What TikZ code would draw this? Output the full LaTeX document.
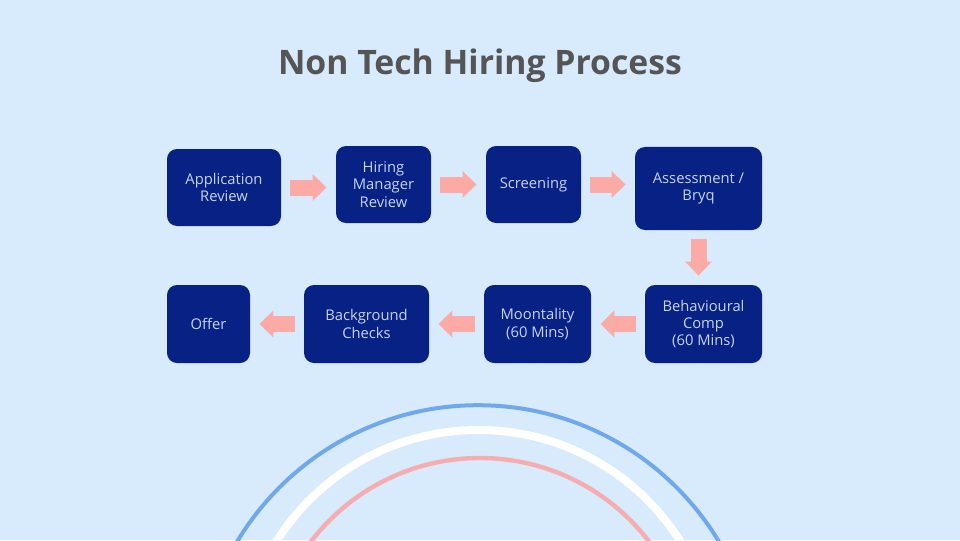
\documentclass[tikz,border=0pt]{standalone}
\usepackage{fontspec}
\setmainfont{Open Sans}
\usetikzlibrary{arrows.meta,positioning}

\definecolor{bgblue}{RGB}{215,235,252}
\definecolor{boxnavy}{RGB}{8,33,133}
\definecolor{boxtext}{RGB}{200,212,245}
\definecolor{arrowpink}{RGB}{251,170,166}
\definecolor{titlegrey}{RGB}{85,85,85}
\definecolor{arcblue}{RGB}{112,168,238}
\definecolor{arcpink}{RGB}{246,173,176}

\tikzset{
    stagebox/.style={fill=boxnavy, rounded corners=0.25cm, text=boxtext, align=center, font=\fontsize{10.5}{12.4}\selectfont, minimum height=1.925cm},
    flow/.style={arrowpink, line width=0.4cm, -{Triangle[length=0.35cm, width=0.675cm, line width=0pt]}, shorten <=0.23cm, shorten >=0.23cm}
}

\begin{document}
\begin{tikzpicture}
    % Background
    \fill[bgblue] (0,0) rectangle (24,13.5);
    \useasboundingbox (0,0) rectangle (24,13.5);
    \clip (0,0) rectangle (24,13.5);

    % Arcs
    \draw[arcblue, line width=0.1cm] (11.95,-3.65) circle (7.02cm);
    \draw[white, line width=0.2cm] (11.96,-3.22) circle (5.97cm);
    \draw[arcpink, line width=0.11cm] (12,-3.27) circle (5.32cm);

    % Title
    \node[text=titlegrey, font=\fontsize{24}{28}\selectfont\bfseries] (title) at (12,11.86) {Non Tech Hiring Process};

    % Nodes
    \node[stagebox, minimum width=2.85cm] (appreview) at (5.6,8.8125) {Application\\Review};
    \node[stagebox, minimum width=2.375cm] (hmreview) at (9.5875,8.8875) {Hiring\\Manager\\Review};
    \node[stagebox, minimum width=2.375cm] (screening) at (13.3375,8.8875) {Screening};
    \node[stagebox, minimum width=3.175cm, minimum height=2.075cm] (assessment) at (17.4625,8.7875) {Assessment /\\Bryq};
    \node[stagebox, minimum width=2.925cm, minimum height=1.95cm] (behavioural) at (17.5875,5.4) {Behavioural\\Comp\\(60 Mins)};
    \node[stagebox, minimum width=2.675cm, minimum height=1.95cm] (moontality) at (13.4375,5.4) {Moontality\\(60 Mins)};
    \node[stagebox, minimum width=3.125cm, minimum height=1.95cm] (background) at (9.1625,5.4) {Background\\Checks};
    \node[stagebox, minimum width=2.075cm, minimum height=1.95cm] (offer) at (5.2125,5.4) {Offer};

    % Arrows
    \draw[flow] (appreview.east) -- (appreview.east -| hmreview.west);
    \draw[flow] (hmreview.east) -- (screening.west);
    \draw[flow] (screening.east) -- (screening.east -| assessment.west);
    \draw[flow] (assessment.south) -- (assessment.south |- behavioural.north);
    \draw[flow] (behavioural.west) -- (moontality.east);
    \draw[flow] (moontality.west) -- (background.east);
    \draw[flow] (background.west) -- (offer.east);
\end{tikzpicture}
\end{document}
